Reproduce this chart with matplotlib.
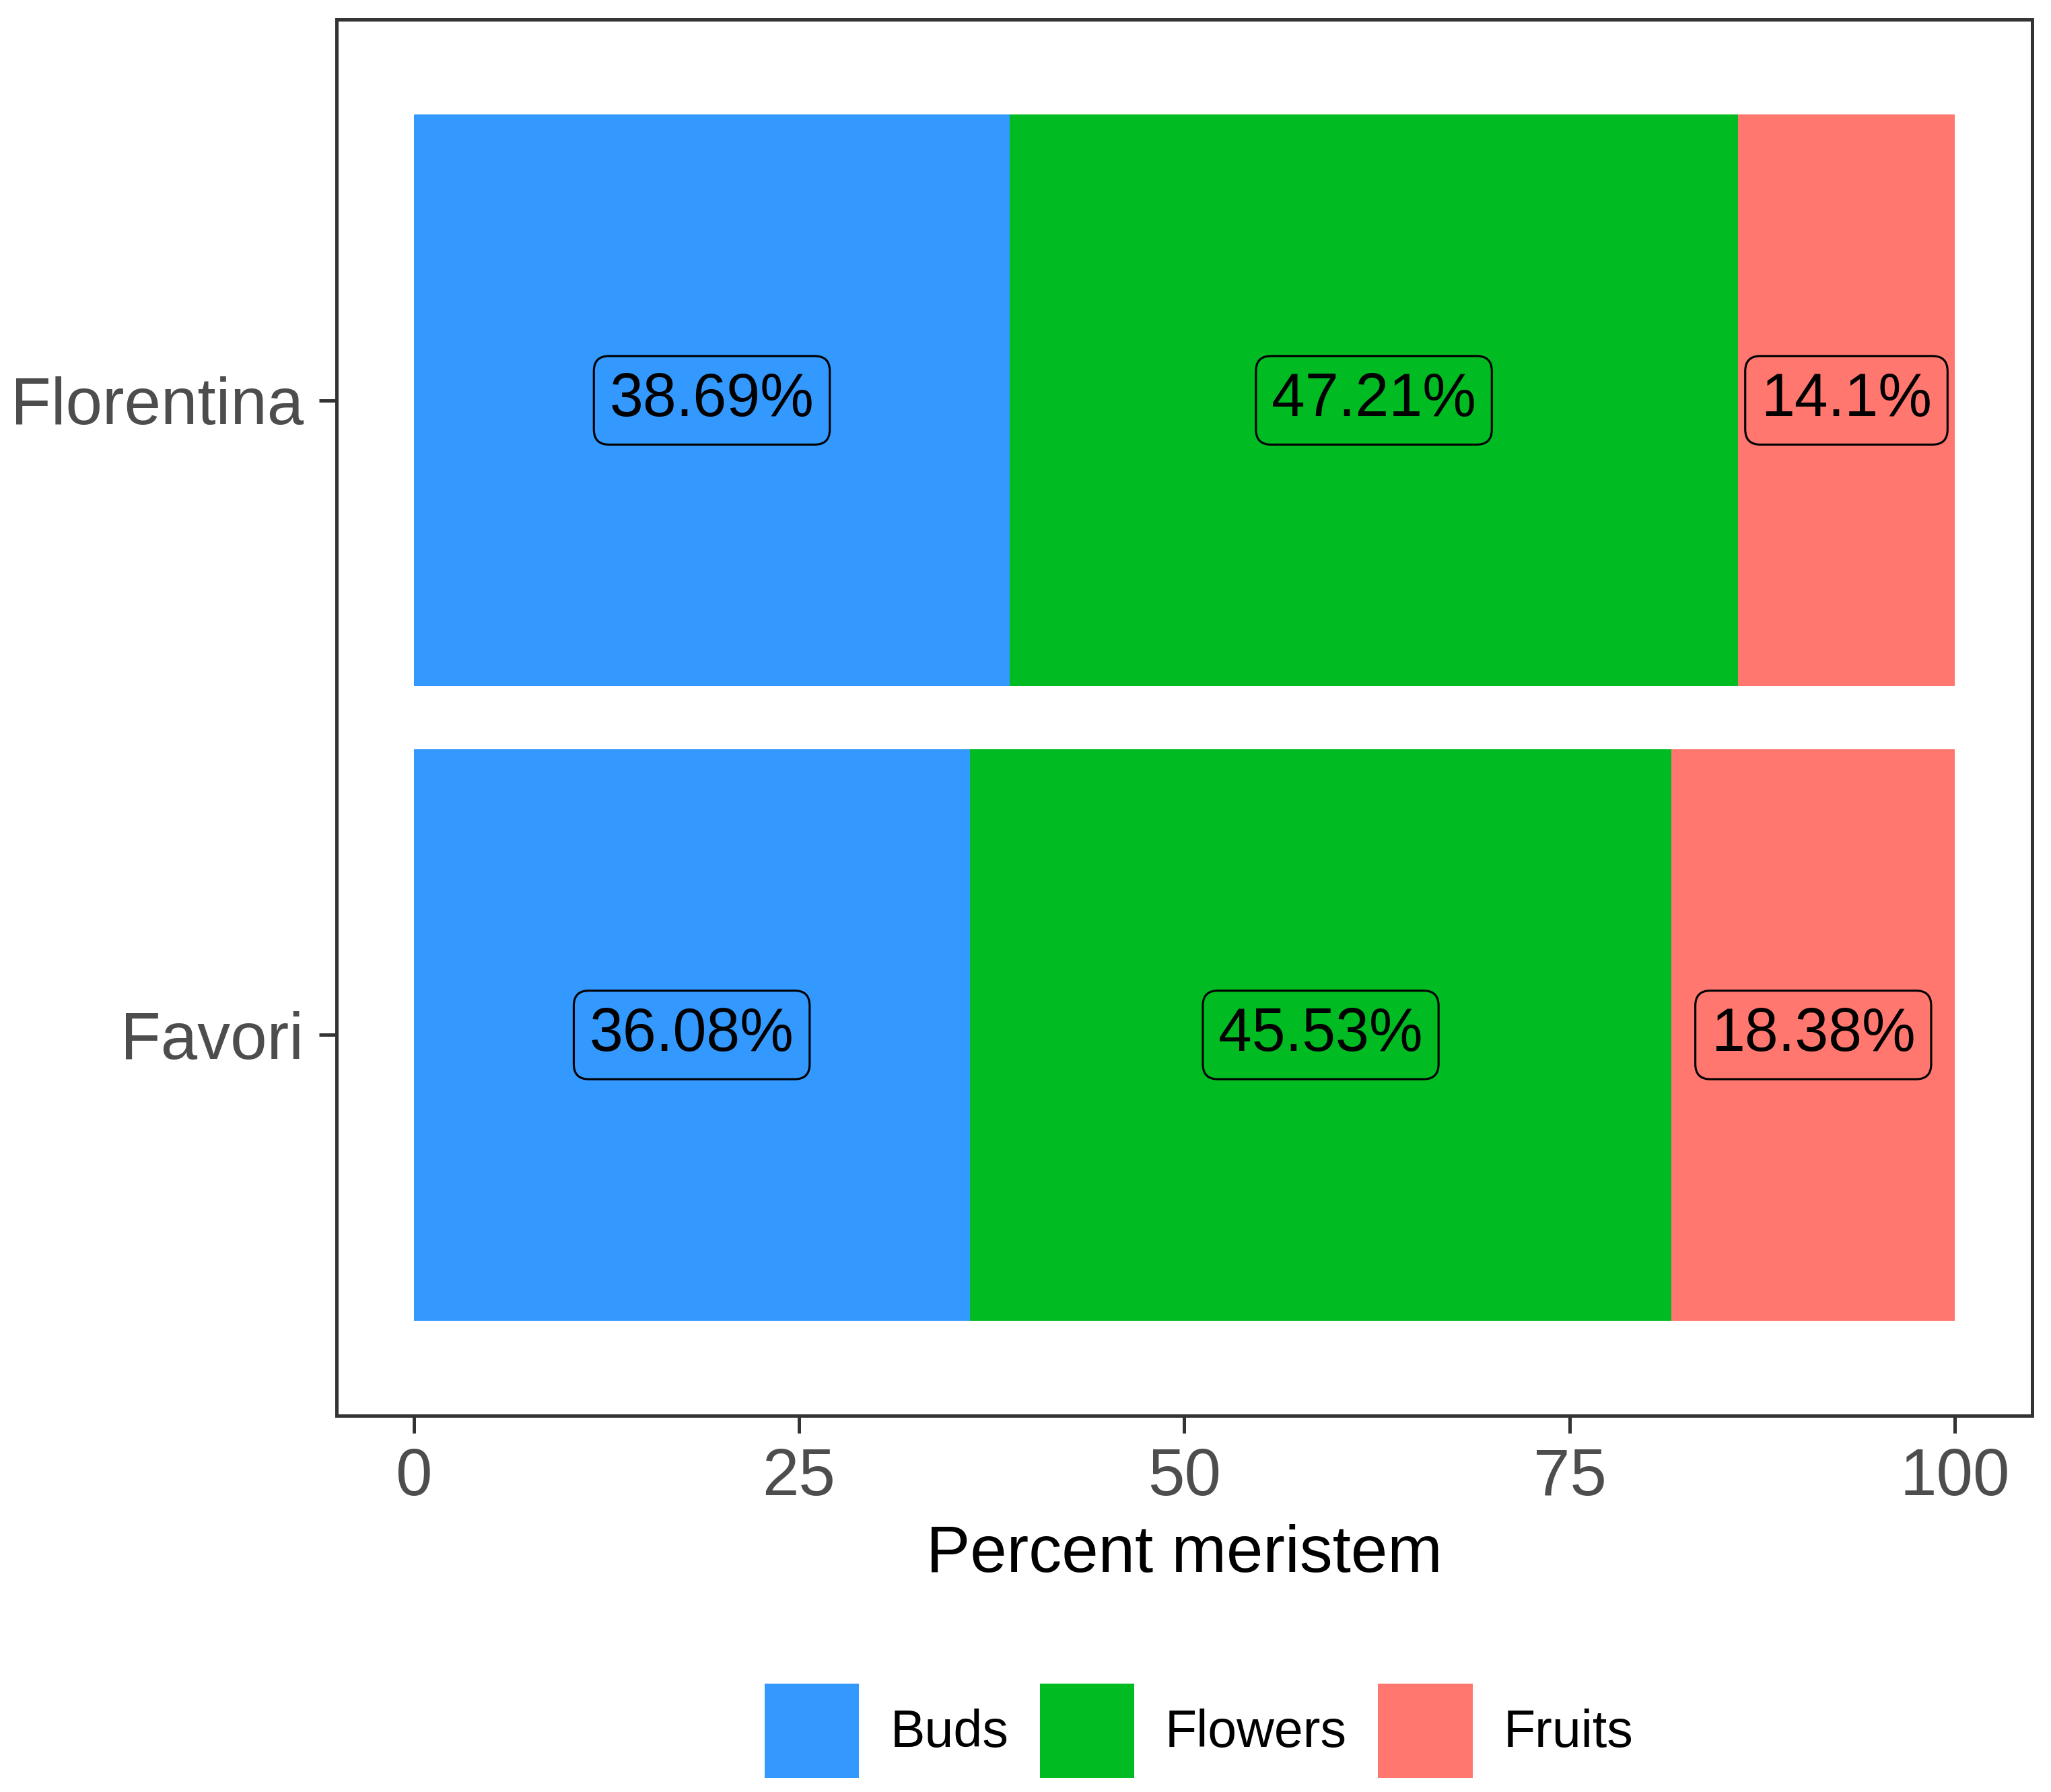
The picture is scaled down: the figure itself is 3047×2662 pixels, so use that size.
import matplotlib.pyplot as plt
from matplotlib.patches import Patch

# Dados (percentual de meristemas por variedade)
varieties = ['Favori', 'Florentina']
stages = ['Buds', 'Flowers', 'Fruits']
buds = [36.08, 38.69]
flowers = [45.53, 47.21]
fruits = [18.38, 14.1]
x_ticks = [0, 25, 50, 75, 100]

colors = ['#3399FF', '#00BB22', '#FF776E']
plt.rcParams['font.family'] = ['Liberation Sans', 'DejaVu Sans']

fig = plt.figure(figsize=(3047 / 300, 2662 / 300), dpi=300)
ax = fig.add_axes([0.1641, 0.2100, 0.9908 - 0.1641, 0.9891 - 0.2100])

positions = list(range(len(varieties)))
lefts = [0.0] * len(varieties)
for stage, values, color in zip(stages, [buds, flowers, fruits], colors):
    ax.barh(positions, values, left=lefts, height=0.9, color=color, label=stage)
    # rótulos no meio de cada segmento
    for y, left, v in zip(positions, lefts, values):
        ax.text(left + v / 2, y, f"{v:g}%", ha='center', va='center', fontsize=21.5,
                color='black',
                bbox=dict(boxstyle='round,pad=0.26,rounding_size=0.25', fc=color,
                          ec='black', lw=0.75))
    lefts = [l + v for l, v in zip(lefts, values)]

ax.set_xlim(-5, 105)
ax.set_ylim(-0.6, len(varieties) - 0.4)
ax.set_xticks(x_ticks)
ax.set_xticklabels([str(t) for t in x_ticks])
ax.set_yticks(positions)
ax.set_yticklabels(varieties)
ax.set_xlabel('Percent meristem', fontsize=23.5, color='black', labelpad=5.5)

for spine in ax.spines.values():
    spine.set_color('#333333')
    spine.set_linewidth(1.2)
ax.tick_params(axis='both', colors='#333333', labelcolor='#4D4D4D', labelsize=23.5,
               length=6.2, width=1.2)
ax.tick_params(axis='x', pad=5.2)
ax.tick_params(axis='y', pad=5.5)

# Legenda embaixo, sem moldura (chaves quadradas)
handles = [Patch(facecolor=c, edgecolor='none', label=s) for s, c in zip(stages, colors)]
fig.legend(handles=handles, loc='center', bbox_to_anchor=(0.5846, 0.0342), ncol=3,
           frameon=False, fontsize=18.5, handlelength=1.82, handleheight=2.42,
           handletextpad=0.6, columnspacing=0.6, borderpad=0, borderaxespad=0)

fig.savefig('out.png', dpi=300)
plt.close(fig)
